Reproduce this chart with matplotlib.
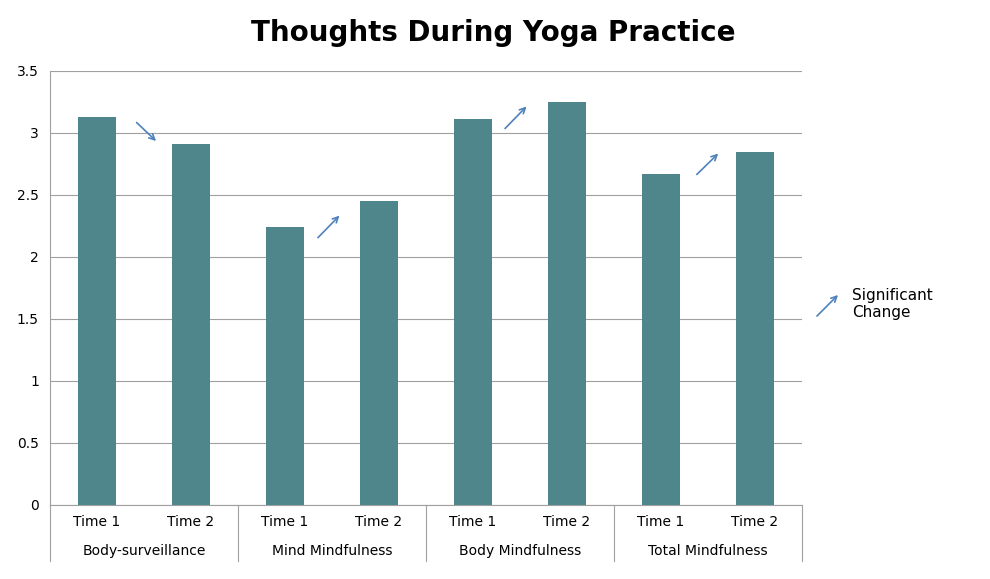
import matplotlib
matplotlib.use("Agg")
import matplotlib.pyplot as plt
from matplotlib.lines import Line2D

groups = ["Body-surveillance", "Mind Mindfulness", "Body Mindfulness", "Total Mindfulness"]
times = ["Time 1", "Time 2"]
values = [3.13, 2.91, 2.24, 2.45, 3.11, 3.25, 2.67, 2.85]
yticks = [0, 0.5, 1, 1.5, 2, 2.5, 3, 3.5]
arrows = [((0.40, 3.10), (0.65, 2.92)), ((2.33, 2.14), (2.60, 2.35)),
          ((4.32, 3.02), (4.59, 3.23)), ((6.36, 2.65), (6.63, 2.85))]

W, H = 990, 579
fig = plt.figure(figsize=(W/100, H/100), dpi=100)
ax = fig.add_axes([50/W, 1-505/H, 752/W, 434/H])
x = list(range(len(values)))
ax.bar(x, values, width=0.4, color="#4F868C", zorder=3)
ax.set_xlim(-0.5, 7.5)
ax.set_ylim(0, 3.5)
ax.set_yticks(yticks)
ax.set_yticklabels([f"{v:g}" for v in yticks], fontsize=10)
ax.yaxis.grid(True, color="#A0A0A0", lw=0.8, zorder=0)
ax.set_xticks([])
ax.tick_params(axis="y", length=0, pad=8)
for s in ["top", "right"]:
    ax.spines[s].set_visible(False)
ax.spines["left"].set_color("#A0A0A0")
ax.spines["bottom"].set_color("#A0A0A0")

for i in x:
    ax.text(i, -0.14, times[i % 2], ha="center", va="center", fontsize=10,
            transform=ax.transData, clip_on=False)
for g, name in enumerate(groups):
    ax.text(2*g+0.5, -0.37, name, ha="center", va="center", fontsize=10, clip_on=False)
for b in [-0.5, 1.5, 3.5, 5.5, 7.5]:
    ax.add_line(Line2D([b, b], [0, -0.45], color="#A0A0A0", lw=0.8, clip_on=False))

for (s, e) in arrows:
    ax.annotate("", xy=e, xytext=s, arrowprops=dict(arrowstyle="->", color="#4F81BD", lw=1.2))

fig.patches.append(matplotlib.patches.FancyArrowPatch((815/W, 1-318/H), (840/W, 1-293/H),
                   transform=fig.transFigure, arrowstyle="->", color="#4F81BD", lw=1.2,
                   mutation_scale=10))
fig.text(852/W, 1-304/H, "Significant\nChange", ha="left", va="center", fontsize=11, linespacing=1.1)
fig.text(493/W, 1-33/H, "Thoughts During Yoga Practice", ha="center", va="center",
         fontsize=20, fontweight="bold")
fig.savefig("out.png", dpi=100)
